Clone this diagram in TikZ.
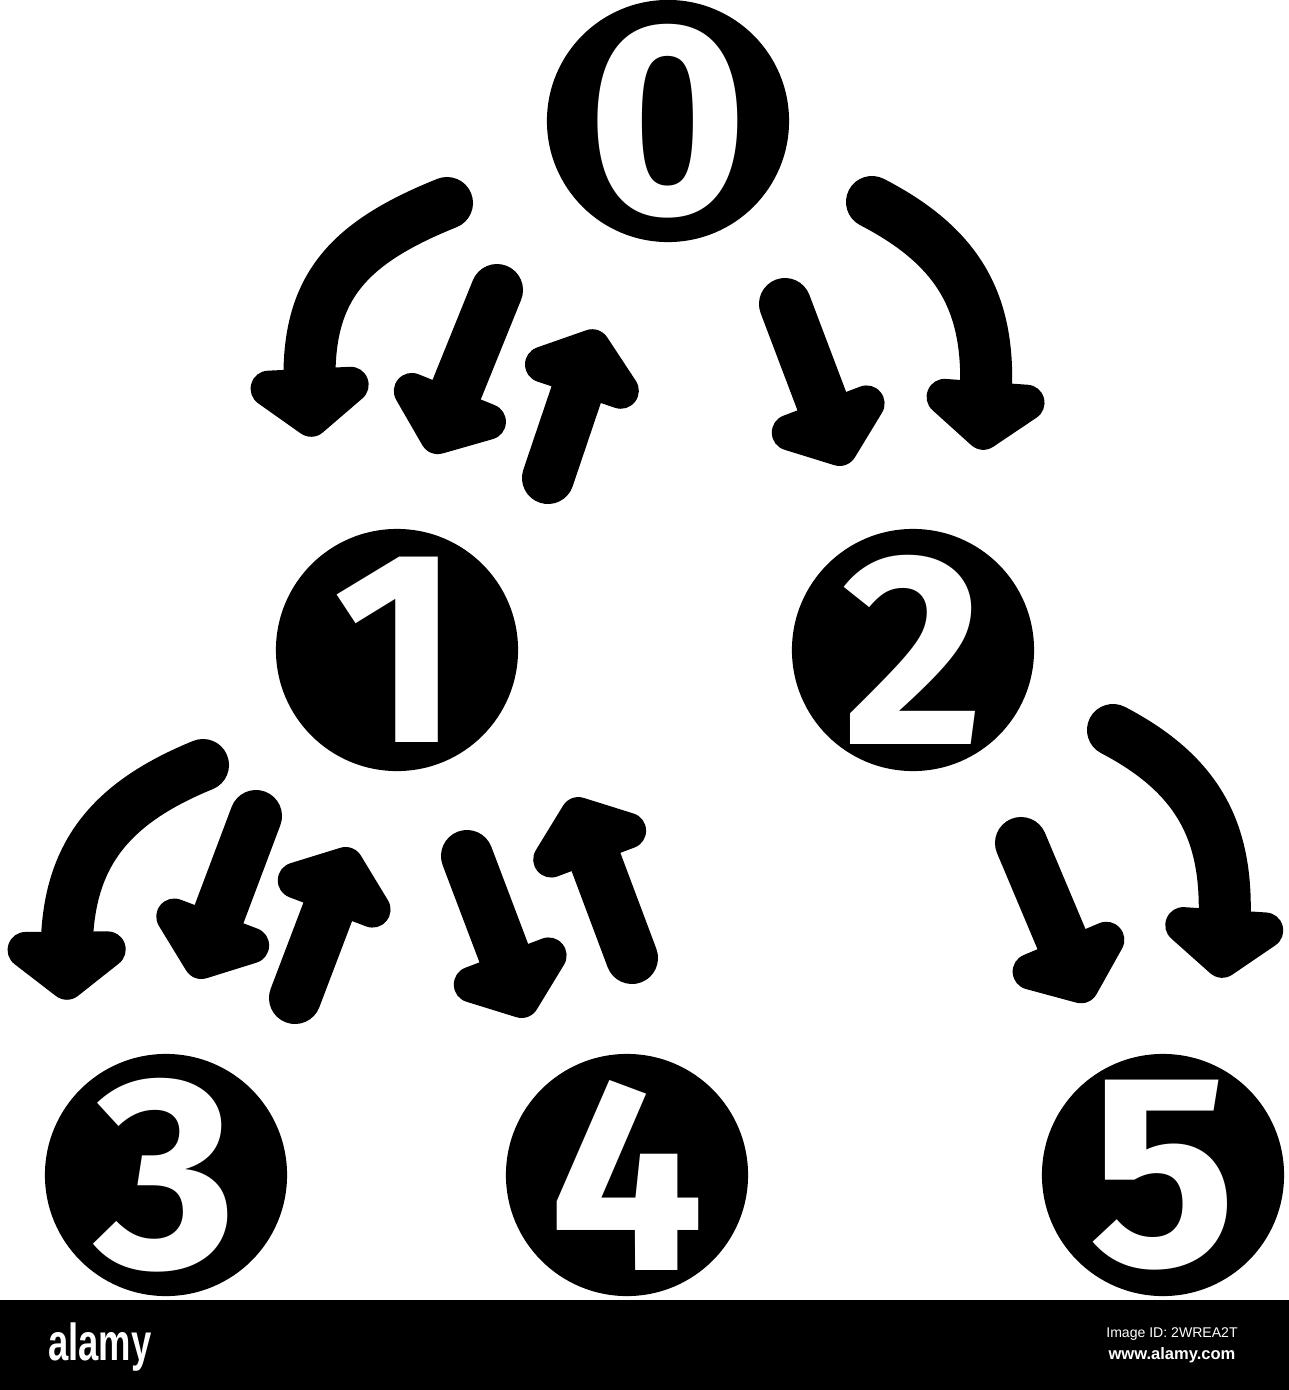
\documentclass[tikz,border=0pt]{standalone}
\usepackage{fontspec}
\newfontfamily\digitfont{Fira Sans}
\newfontfamily\markfont{Liberation Sans}
\usetikzlibrary{decorations.markings}

\tikzset{
  numdot/.style={circle, fill=black, minimum size=2.42cm, inner sep=0pt,
    label={[text=white, inner sep=0pt,
      font=\digitfont\bfseries\fontsize{78}{78}\selectfont]center:#1}},
  fatarrow/.style={line width=0.52cm, line cap=round, shorten >=0.45cm,
    postaction={decorate, decoration={markings, mark=at position 0.999 with {
      \filldraw[line width=0.36cm, line join=round, shorten >=0pt]
        (-0.18cm,0) -- (-0.5cm,0.41cm) -- (-0.5cm,-0.41cm) -- cycle;}}}},
}

\begin{document}
\begin{tikzpicture}[x=0.01cm, y=-0.01cm]
  \useasboundingbox (0,0) rectangle (1289,1390);

  \node[numdot=0] (n0) at (668,121) {};
  \node[numdot=1] (n1) at (397,650) {};
  \node[numdot=2] (n2) at (913,650) {};
  \node[numdot=3] (n3) at (166,1175) {};
  \node[numdot=4] (n4) at (627,1175) {};
  \node[numdot=5] (n5) at (1163,1175) {};

  % arrows round 0
  \draw[fatarrow] (447,203) .. controls (345,244) and (305,290) .. (312,437);
  \draw[fatarrow] (497,290) -- (431,453);
  \draw[fatarrow] (548,478) -- (598,330);
  \draw[fatarrow] (785,304) -- (846,465);
  \draw[fatarrow] (872,202) .. controls (965,250) and (992,310) .. (982,450);

  % arrows round 1 and 2
  \draw[fatarrow] (203,765) .. controls (105,805) and (66,860) .. (67,1000);
  \draw[fatarrow] (256,816) -- (195,978);
  \draw[fatarrow] (295,998) -- (352,848);
  \draw[fatarrow] (467,856) -- (528,1017);
  \draw[fatarrow] (632,958) -- (572,798);
  \draw[fatarrow] (1021,843) -- (1088,1002);
  \draw[fatarrow] (1113,730) .. controls (1205,778) and (1230,840) .. (1221,978);

  % bottom bar
  \fill[black] (0,1300) rectangle (1289,1390);
  \node[text=white, anchor=base, inner sep=0pt,
    font=\markfont\bfseries\fontsize{14.8}{14.8}\selectfont] (mark) at (100,1360)
    {\scalebox{0.7}[1]{alamy}};
  \node[text=white, anchor=base, inner sep=0pt,
    font=\markfont\fontsize{4}{4}\selectfont] (imgid) at (1172,1337) {Image ID: 2WREA2T};
  \node[text=white, anchor=base, inner sep=0pt,
    font=\markfont\bfseries\fontsize{4.7}{4.7}\selectfont] (site) at (1172,1359) {www.alamy.com};
\end{tikzpicture}
\end{document}
